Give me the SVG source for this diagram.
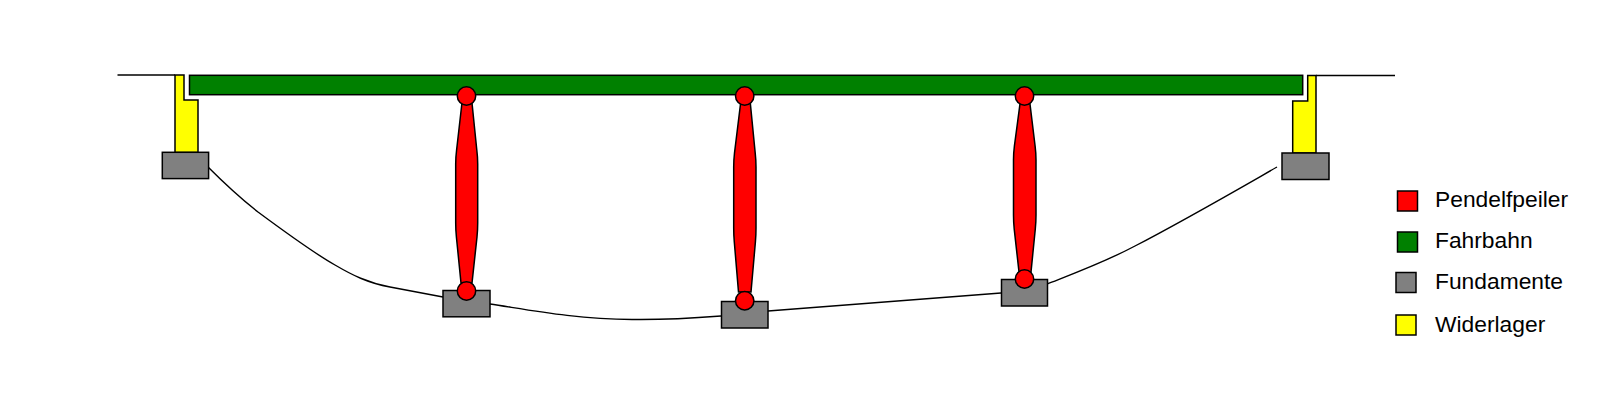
<svg xmlns="http://www.w3.org/2000/svg" width="1600" height="400" viewBox="0 0 1600 400">
<style>
.s{stroke:#000;stroke-width:1.5;stroke-linejoin:miter}
.l{fill:none;stroke:#000;stroke-width:1.4}
.r{fill:#f00}.g{fill:#008000}.f{fill:#808080}.y{fill:#ff0}
text{font-family:"Liberation Sans",Arial,sans-serif;font-size:22.800px;fill:#000}
</style>
<rect width="1600" height="400" fill="#fff"/>
<g id="connectors">
<path class="l" d="M117.500 75H175"/>
<path class="l" d="M1316 75.500H1395"/>
<path class="l" d="M207 166C222 181 240 198 258 212C285 232 312 252 335 265C352 275 368 283 390 287L443 297"/>
<path class="l" d="M490 304C530 310 575 319 632 319.500C665 320 695 318 721 316"/>
<path class="l" d="M768 311L1001 293"/>
<path class="l" d="M1047 284C1075 273 1105 262 1135 246C1185 220 1235 191 1277 167"/>
</g>
<g id="fahrbahn"><rect class="s g" x="189.500" y="75.300" width="1113.200" height="19.400"/></g>
<g id="widerlager-links"><polygon class="s y" points="175,75 184,75 184,100 198,100 198,152.500 175,152.500"/></g>
<g id="fundament-links"><rect class="s f" x="162.300" y="152.300" width="46.300" height="26.300"/></g>
<g id="widerlager-rechts"><polygon class="s y" points="1307.700,75.500 1316,75.500 1316,153 1292.700,153 1292.700,101 1307.700,101"/></g>
<g id="fundament-rechts"><rect class="s f" x="1282" y="153" width="47" height="26.500"/></g>
<g id="fundament-1"><rect class="s f" x="443" y="290.500" width="47" height="26.300"/></g>
<g id="fundament-2"><rect class="s f" x="721.500" y="301.500" width="46.500" height="26.500"/></g>
<g id="fundament-3"><rect class="s f" x="1001.500" y="279.500" width="46" height="26.500"/></g>
<g id="pfeiler-1">
<path class="s r" d="M462.300 100H471.700L476.800 150Q477.700 157 477.700 164V223Q477.700 230 477 237L472 283H461L456.400 237Q455.700 230 455.700 223V164Q455.700 157 456.600 150Z"/>
<circle class="s r" cx="466.500" cy="96" r="9.200"/><circle class="s r" cx="466.500" cy="291" r="9.200"/>
</g>
<g id="pfeiler-2">
<path class="s r" d="M741 100H750L755.200 153Q756 160 756 167V228Q756 235 755.400 242L751 292H738.500L734.300 242Q733.700 235 733.700 228V167Q733.700 160 734.500 153Z"/>
<circle class="s r" cx="744.700" cy="96" r="9.200"/><circle class="s r" cx="744.700" cy="300.700" r="9.200"/>
</g>
<g id="pfeiler-3">
<path class="s r" d="M1020.500 100H1029.500L1035.100 146Q1036 153 1036 160V215Q1036 222 1035.300 229L1031 272H1019L1014.200 229Q1013.500 222 1013.500 215V160Q1013.500 153 1014.400 146Z"/>
<circle class="s r" cx="1024.500" cy="96" r="9.200"/><circle class="s r" cx="1024.500" cy="279" r="9.200"/>
</g>
<g id="legende-pendelfpeiler"><rect class="s r" x="1397.500" y="191" width="20" height="20"/><text x="1435" y="207">Pendelfpeiler</text></g>
<g id="legende-fahrbahn"><rect class="s g" x="1397.500" y="232" width="20" height="20"/><text x="1435" y="248">Fahrbahn</text></g>
<g id="legende-fundamente"><rect class="s f" x="1396" y="272.500" width="20" height="20"/><text x="1435" y="288.500">Fundamente</text></g>
<g id="legende-widerlager"><rect class="s y" x="1396" y="315" width="20" height="20"/><text x="1435" y="331.500">Widerlager</text></g>
</svg>
